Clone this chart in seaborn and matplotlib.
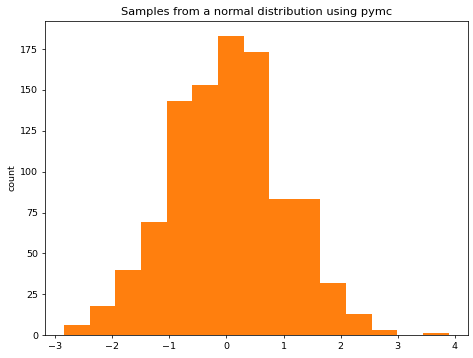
# histogram of samples drawn from a normal distribution (pymc)

import matplotlib
matplotlib.use("Agg")
import matplotlib.pyplot as plt
import numpy as np
import seaborn as sns

# bin edges and counts
bin_edges = [-2.84, -2.391, -1.943, -1.494, -1.045, -0.597, -0.148, 0.301,
             0.749, 1.198, 1.647, 2.095, 2.544, 2.993, 3.441, 3.89]
counts = [6, 18, 40, 69, 143, 153, 183, 173, 83, 83, 32, 13, 3, 0, 1]

edges = np.array(bin_edges)
centers = (edges[:-1] + edges[1:]) / 2

fig, ax = plt.subplots(figsize=(6.97, 5.265), dpi=68)
sns.histplot(x=centers, weights=counts, bins=bin_edges, ax=ax,
             color='#ff7f0e', alpha=1, linewidth=0)

ax.set_title('Samples from a normal distribution using pymc')
ax.set_ylabel('count')
ax.set_xlabel('')

fig.subplots_adjust(left=0.095, right=0.987, top=0.941, bottom=0.064)
fig.savefig('out.png')
